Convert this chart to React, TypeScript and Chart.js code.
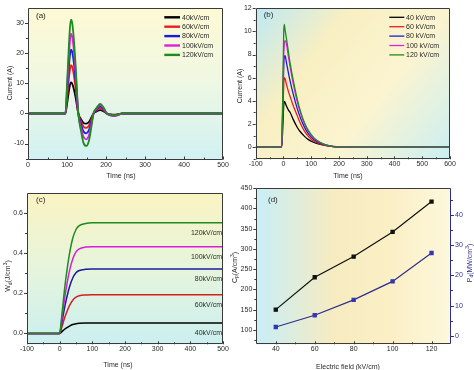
import React, { useEffect, useRef } from "react";
import { Chart, registerables } from "chart.js";

Chart.register(...registerables);

// ---------------- data ----------------
const LEGEND_A = ["40kV/cm", "60kV/cm", "80kV/cm", "100kV/cm", "120kV/cm"];
const LEGEND_B = ["40 kV/cm", "60 kV/cm", "80 kV/cm", "100 kV/cm", "120 kV/cm"];
const LABELS_C = ["40kV/cm", "60kV/cm", "80kV/cm", "100kV/cm", "120kV/cm"];

// (a) current waveforms
const A_TIME = [0, 96, 100, 104, 107, 110, 113, 117, 122, 129, 136, 142, 149, 156, 162, 168, 176, 185, 194, 202, 212, 222, 232, 242, 500];
const A_40 = [0, 0, 3.1, 6.7, 9.1, 10.3, 10.0, 8.4, 5.4, 0, -1.9, -3.1, -3.4, -2.9, -1.5, 0, 0.7, 1.1, 0.7, 0, -0.3, -0.4, -0.2, 0, 0];
const A_60 = [0, 0, 4.8, 10.5, 14.2, 16.1, 15.6, 13.2, 8.4, 0, -2.6, -4.3, -4.8, -4.1, -2.2, 0, 1.0, 1.7, 1.0, 0, -0.4, -0.5, -0.3, 0, 0];
const A_80 = [0, 0, 6.4, 13.8, 18.7, 21.2, 20.6, 17.4, 11.0, 0, -3.6, -5.9, -6.6, -5.6, -3.0, 0, 1.4, 2.3, 1.4, 0, -0.6, -0.8, -0.5, 0, 0];
const A_100 = [0, 0, 8.0, 17.2, 23.3, 26.5, 25.7, 21.7, 13.8, 0, -4.7, -7.7, -8.6, -7.3, -3.9, 0, 1.7, 2.8, 1.7, 0, -0.6, -0.8, -0.5, 0, 0];
const A_120 = [0, 0, 9.4, 20.3, 27.5, 31.2, 30.3, 25.6, 16.2, 0, -5.9, -9.7, -10.8, -9.2, -4.9, 0, 1.9, 3.2, 1.9, 0, -0.5, -0.6, -0.3, 0, 0];
const A_X_TICKS = [0, 100, 200, 300, 400, 500];
const A_Y_TICKS = [-10, 0, 10, 20, 30];

// (b) current waveforms
const B_TIME = [-100, -8, -5, -2, 1, 3, 6, 10, 18, 25, 35, 50, 60, 75, 90, 110, 130, 150, 180, 220, 600];
const B_40 = [0, 0, 0.4, 2.0, 3.6, 3.95, 3.85, 3.6, 3.2, 2.95, 2.4, 1.7, 1.35, 0.95, 0.65, 0.4, 0.26, 0.15, 0.04, 0, 0];
const B_60 = [0, 0, 0.6, 3.0, 5.4, 6.0, 5.9, 5.5, 4.8, 4.3, 3.6, 2.7, 2.1, 1.4, 0.92, 0.52, 0.3, 0.15, 0.04, 0, 0];
const B_80 = [0, 0, 0.8, 4.0, 7.0, 7.8, 7.9, 7.4, 6.4, 5.6, 4.6, 3.3, 2.6, 1.75, 1.15, 0.66, 0.37, 0.19, 0.05, 0, 0];
const B_100 = [0, 0, 0.9, 4.6, 8.0, 8.9, 9.2, 9.0, 7.8, 6.8, 5.5, 3.9, 3.05, 2.05, 1.35, 0.76, 0.42, 0.21, 0.06, 0, 0];
const B_120 = [0, 0, 1.0, 5.5, 10.0, 10.6, 10.1, 9.5, 8.2, 7.1, 5.8, 4.1, 3.2, 2.15, 1.42, 0.8, 0.44, 0.22, 0.06, 0, 0];
const B_X_TICKS = [-100, 0, 100, 200, 300, 400, 500, 600];
const B_Y_TICKS = [0, 2, 4, 6, 8, 10, 12];

// (c) energy density
const C_TIME = [-100, 0, 5, 10, 15, 20, 30, 40, 50, 60, 80, 100, 500];
const C_40 = [0, 0, 0.006, 0.014, 0.021, 0.027, 0.037, 0.045, 0.049, 0.051, 0.052, 0.052, 0.052];
const C_60 = [0, 0, 0.023, 0.05, 0.077, 0.1, 0.139, 0.166, 0.181, 0.188, 0.192, 0.193, 0.193];
const C_80 = [0, 0, 0.039, 0.084, 0.129, 0.167, 0.232, 0.277, 0.303, 0.314, 0.32, 0.322, 0.322];
const C_100 = [0, 0, 0.052, 0.113, 0.173, 0.225, 0.312, 0.372, 0.407, 0.422, 0.431, 0.433, 0.433];
const C_120 = [0, 0, 0.066, 0.144, 0.221, 0.287, 0.397, 0.475, 0.519, 0.538, 0.549, 0.552, 0.552];
const C_X_TICKS = [-100, 0, 100, 200, 300, 400, 500];
const C_Y_TICKS = [0, 0.2, 0.4, 0.6];

// (d) vs electric field
const D_FIELD = [40, 60, 80, 100, 120];
const D_CP = [150, 230, 281, 342, 417];
const D_PD = [2.9, 6.8, 11.9, 18.0, 27.4];
const D_X_TICKS = [40, 60, 80, 100, 120];
const D_YL_TICKS = [100, 150, 200, 250, 300, 350, 400, 450];
const D_YR_TICKS = [0, 10, 20, 30, 40];

// ---------------- styles ----------------
const FONT = '"Liberation Sans", Arial, Helvetica, sans-serif';
const AXIS = "#3a3a3a";
const TEXT = "#2a2a2a";
const NAVY = "#2e2e8c";
const COLORS_AB = ["#000000", "#ea1c24", "#1a1ae0", "#e020e0", "#1f8a1f"];
const COLORS_C = ["#000000", "#d42020", "#1c1c9c", "#dc1adc", "#1f8a1f"];

type Seg = { t: string; s?: "sub" | "sup" };

function drawRich(ctx: CanvasRenderingContext2D, segs: Seg[], x: number, y: number, size: number, color: string, rot = 0) {
  ctx.save();
  ctx.translate(x, y);
  ctx.rotate(rot);
  const small = size * 0.7;
  let w = 0;
  for (const sg of segs) {
    ctx.font = `${sg.s ? small : size}px ${FONT}`;
    w += ctx.measureText(sg.t).width;
  }
  let cx = -w / 2;
  ctx.fillStyle = color;
  ctx.textBaseline = "middle";
  ctx.textAlign = "left";
  for (const sg of segs) {
    const fs = sg.s ? small : size;
    ctx.font = `${fs}px ${FONT}`;
    const dy = sg.s === "sub" ? size * 0.3 : sg.s === "sup" ? -size * 0.35 : 0;
    ctx.fillText(sg.t, cx, dy);
    cx += ctx.measureText(sg.t).width;
  }
  ctx.restore();
}

function drawText(ctx: CanvasRenderingContext2D, t: string, x: number, y: number, size: number, align: CanvasTextAlign = "left", color = TEXT) {
  ctx.save();
  ctx.font = `${size}px ${FONT}`;
  ctx.fillStyle = color;
  ctx.textAlign = align;
  ctx.textBaseline = "middle";
  ctx.fillText(t, x, y);
  ctx.restore();
}

interface DecoCfg {
  grad: (ctx: CanvasRenderingContext2D, a: any) => CanvasGradient;
  rightColor?: string;
  tickColors?: Record<string, string>;
  texts: (ctx: CanvasRenderingContext2D, chart: any) => void;
}

function makeDeco(cfg: DecoCfg) {
  return {
    id: "deco",
    beforeDraw(chart: any) {
      const { ctx, chartArea: a } = chart;
      ctx.save();
      ctx.fillStyle = cfg.grad(ctx, a);
      ctx.fillRect(a.left, a.top, a.right - a.left, a.bottom - a.top);
      ctx.restore();
    },
    afterDraw(chart: any) {
      const { ctx, chartArea: a } = chart;
      ctx.save();
      ctx.lineWidth = 1;
      for (const id of Object.keys(chart.scales)) {
        const s = chart.scales[id];
        const major: number[] = s.ticks.map((t: any) => t.value);
        const minor: number[] = [];
        for (let i = 0; i < major.length - 1; i++) minor.push((major[i] + major[i + 1]) / 2);
        const step = major[1] - major[0];
        if (major[0] - step / 2 > s.min) minor.unshift(major[0] - step / 2);
        if (major[major.length - 1] + step / 2 < s.max) minor.push(major[major.length - 1] + step / 2);
        ctx.strokeStyle = (cfg.tickColors && cfg.tickColors[id]) || AXIS;
        const draw = (v: number, len: number) => {
          const p = Math.round(s.getPixelForValue(v)) + 0.5;
          ctx.beginPath();
          if (s.isHorizontal()) {
            ctx.moveTo(p, a.bottom);
            ctx.lineTo(p, a.bottom - len);
          } else if (s.position === "left") {
            ctx.moveTo(a.left, p);
            ctx.lineTo(a.left - len, p);
          } else {
            ctx.moveTo(a.right, p);
            ctx.lineTo(a.right + len, p);
          }
          ctx.stroke();
        };
        major.forEach((v) => draw(v, 3));
        minor.forEach((v) => draw(v, 2));
      }
      const l = Math.round(a.left) + 0.5;
      const r = Math.round(a.right) - 0.5;
      const t = Math.round(a.top) + 0.5;
      const b = Math.round(a.bottom) - 0.5;
      ctx.strokeStyle = AXIS;
      ctx.beginPath();
      ctx.moveTo(r, t);
      ctx.lineTo(l, t);
      ctx.lineTo(l, b);
      ctx.lineTo(r, b);
      ctx.stroke();
      ctx.strokeStyle = cfg.rightColor || AXIS;
      ctx.beginPath();
      ctx.moveTo(r, t);
      ctx.lineTo(r, b);
      ctx.stroke();
      ctx.restore();
      cfg.texts(ctx, chart);
    },
  };
}

function xScale(min: number, max: number, ticks: number[], height: number, fmt?: (v: number) => string) {
  return {
    type: "linear",
    position: "bottom",
    min,
    max,
    grid: { display: false, drawTicks: false, drawOnChartArea: false },
    border: { display: false },
    ticks: {
      font: { family: FONT, size: 7 },
      color: TEXT,
      padding: 1,
      maxRotation: 0,
      autoSkip: false,
      callback: (v: any) => (fmt ? fmt(Number(v)) : String(v)),
    },
    afterBuildTicks: (s: any) => {
      s.ticks = ticks.map((v) => ({ value: v }));
    },
    afterFit: (s: any) => {
      s.height = height;
    },
  };
}

function yScale(min: number, max: number, ticks: number[], width: number, position: string, color = TEXT, fmt?: (v: number) => string) {
  return {
    type: "linear",
    position,
    min,
    max,
    grid: { display: false, drawTicks: false, drawOnChartArea: false },
    border: { display: false },
    ticks: {
      font: { family: FONT, size: 7 },
      color,
      padding: 4,
      autoSkip: false,
      callback: (v: any) => (fmt ? fmt(Number(v)) : String(v)),
    },
    afterBuildTicks: (s: any) => {
      s.ticks = ticks.map((v) => ({ value: v }));
    },
    afterFit: (s: any) => {
      s.width = width;
    },
  };
}

function common(padding: any, scales: any) {
  return {
    responsive: false,
    maintainAspectRatio: false,
    animation: false,
    events: [],
    layout: { padding, autoPadding: false },
    plugins: { legend: { display: false }, tooltip: { enabled: false }, title: { display: false } },
    scales,
  };
}

function lineSets(xs: number[], series: number[][], colors: string[], width: number) {
  return series.map((ys, i) => ({
    data: xs.map((x, k) => ({ x, y: ys[k] })),
    borderColor: colors[i],
    backgroundColor: colors[i],
    borderWidth: width,
    pointRadius: 0,
    cubicInterpolationMode: "monotone",
    fill: false,
    order: series.length - i,
  }));
}

function legend(ctx: CanvasRenderingContext2D, names: string[], colors: string[], x0: number, x1: number, tx: number, y0: number, dy: number, lw: number) {
  names.forEach((n, i) => {
    const y = y0 + dy * i;
    ctx.save();
    ctx.strokeStyle = colors[i];
    ctx.lineWidth = lw;
    ctx.beginPath();
    ctx.moveTo(x0, y);
    ctx.lineTo(x1, y);
    ctx.stroke();
    ctx.restore();
    drawText(ctx, n, tx, y + 0.3, 7);
  });
}

// ---------------- panels ----------------
function buildA(): any {
  return {
    type: "line",
    data: { datasets: lineSets(A_TIME, [A_40, A_60, A_80, A_100, A_120], COLORS_AB, 1.8) },
    options: common({ left: 0, right: 14, top: 3, bottom: 0 }, {
      x: xScale(0, 500, A_X_TICKS, 25.5),
      y: yScale(-15.3, 35, A_Y_TICKS, 28, "left"),
    }),
    plugins: [
      makeDeco({
        grad: (ctx, a) => {
          const g = ctx.createLinearGradient(0, a.top, 0, a.bottom);
          g.addColorStop(0, "#fdf9d4");
          g.addColorStop(0.45, "#f0f8e2");
          g.addColorStop(1, "#d2f1f3");
          return g;
        },
        texts: (ctx) => {
          drawRich(ctx, [{ t: "Time (ns)" }], 121, 175.7, 7, TEXT);
          drawRich(ctx, [{ t: "Current (A)" }], 10, 83, 7, TEXT, -Math.PI / 2);
          drawText(ctx, "(a)", 36, 16, 8);
          legend(ctx, LEGEND_A, COLORS_AB, 164.3, 180, 182, 17.3, 9.4, 2.4);
        },
      }),
    ],
  };
}

function buildB(): any {
  return {
    type: "line",
    data: { datasets: lineSets(B_TIME, [B_40, B_60, B_80, B_100, B_120], COLORS_AB, 1.3) },
    options: common({ left: 0, right: 24, top: 2.7, bottom: 0 }, {
      x: xScale(-100, 600, B_X_TICKS, 25.7),
      y: yScale(-1.05, 12, B_Y_TICKS, 23.7, "left"),
    }),
    plugins: [
      makeDeco({
        grad: (ctx, a) => {
          const g = ctx.createLinearGradient(a.left, a.top, a.right, a.bottom);
          g.addColorStop(0, "#bde9f5");
          g.addColorStop(0.3, "#f8efc2");
          g.addColorStop(0.62, "#fbf4d0");
          g.addColorStop(1, "#cbeff3");
          return g;
        },
        texts: (ctx) => {
          drawRich(ctx, [{ t: "Time (ns)" }], 116, 176, 7, TEXT);
          drawRich(ctx, [{ t: "Current (A)" }], 8, 86, 7, TEXT, -Math.PI / 2);
          drawText(ctx, "(b)", 31.7, 15, 8);
          legend(ctx, LEGEND_B, COLORS_AB, 157.3, 172.3, 174, 17.3, 9.4, 1.3);
        },
      }),
    ],
  };
}

function buildC(): any {
  const series = [C_40, C_60, C_80, C_100, C_120];
  return {
    type: "line",
    data: { datasets: lineSets(C_TIME, series, COLORS_C, 1.5) },
    options: common({ left: 0, right: 14, top: 2, bottom: 0 }, {
      x: xScale(-100, 500, C_X_TICKS, 25.7),
      y: yScale(-0.054, 0.7, C_Y_TICKS, 27, "left", TEXT, (v) => v.toFixed(1)),
    }),
    plugins: [
      makeDeco({
        grad: (ctx, a) => {
          const g = ctx.createLinearGradient(0, a.top, 0, a.bottom);
          g.addColorStop(0, "#faf3c2");
          g.addColorStop(0.5, "#e6f5dc");
          g.addColorStop(1, "#cbeff0");
          return g;
        },
        texts: (ctx, chart) => {
          const a = chart.chartArea;
          const ys = chart.scales.y;
          drawRich(ctx, [{ t: "Time (ns)" }], 118, 180, 7, TEXT);
          drawRich(ctx, [{ t: "W" }, { t: "d", s: "sub" }, { t: "(J/cm" }, { t: "3", s: "sup" }, { t: ")" }], 8.3, 91, 7, TEXT, -Math.PI / 2);
          drawText(ctx, "(c)", 36, 15, 8);
          series.forEach((s, i) => {
            drawText(ctx, LABELS_C[i], a.right - 1, ys.getPixelForValue(s[s.length - 1]) + 10, 7, "right");
          });
        },
      }),
    ],
  };
}

function buildD(): any {
  return {
    type: "line",
    data: {
      datasets: [
        {
          data: D_FIELD.map((x, i) => ({ x, y: D_CP[i] })),
          yAxisID: "y",
          borderColor: "#111111",
          backgroundColor: "#111111",
          borderWidth: 1.2,
          pointStyle: "rect",
          pointRadius: 2.2,
          tension: 0,
        },
        {
          data: D_FIELD.map((x, i) => ({ x, y: D_PD[i] })),
          yAxisID: "y1",
          borderColor: NAVY,
          backgroundColor: "#3434b4",
          pointBackgroundColor: "#3434b4",
          pointBorderColor: "#3434b4",
          borderWidth: 1.2,
          pointStyle: "rect",
          pointRadius: 2.2,
          tension: 0,
        },
      ],
    },
    options: common({ left: 0, right: 0, top: 6.7, bottom: 0 }, {
      x: xScale(30, 130, D_X_TICKS, 25.7),
      y: yScale(64.3, 450, D_YL_TICKS, 26.3, "left"),
      y1: yScale(-2.82, 48.85, D_YR_TICKS, 23, "right", NAVY),
    }),
    plugins: [
      makeDeco({
        rightColor: NAVY,
        tickColors: { y1: NAVY },
        grad: (ctx, a) => {
          const g = ctx.createLinearGradient(a.left, a.top, a.right, a.top);
          g.addColorStop(0, "#c8eef8");
          g.addColorStop(0.4, "#f7ebc0");
          g.addColorStop(0.7, "#fbefc6");
          g.addColorStop(1, "#fdf8dc");
          return g;
        },
        texts: (ctx) => {
          drawRich(ctx, [{ t: "Electric field (kV/cm)" }], 118, 187.3, 7, TEXT);
          drawRich(ctx, [{ t: "C" }, { t: "p", s: "sub" }, { t: "(A/cm" }, { t: "3", s: "sup" }, { t: ")" }], 5, 87.5, 7, TEXT, -Math.PI / 2);
          drawRich(ctx, [{ t: "P" }, { t: "d", s: "sub" }, { t: "(MW/cm" }, { t: "3", s: "sup" }, { t: ")" }], 240, 83, 7, NAVY, -Math.PI / 2);
          drawText(ctx, "(d)", 38, 20, 8);
        },
      }),
    ],
  };
}

function Panel(props: { left: number; top: number; width: number; height: number; build: () => any }) {
  const ref = useRef<HTMLCanvasElement>(null);
  useEffect(() => {
    const chart = new Chart(ref.current as HTMLCanvasElement, props.build());
    return () => chart.destroy();
  }, []);
  return (
    <div style={{ position: "absolute", left: props.left, top: props.top, width: props.width, height: props.height }}>
      <canvas ref={ref} width={props.width} height={props.height} style={{ display: "block", width: props.width, height: props.height }} />
    </div>
  );
}

export default function App() {
  return (
    <div style={{ position: "absolute", left: 0, top: 0, width: 474, height: 370, background: "#ffffff", overflow: "hidden" }}>
      <Panel left={0} top={0} width={237} height={185} build={buildA} />
      <Panel left={232} top={0} width={242} height={185} build={buildB} />
      <Panel left={0} top={185} width={237} height={185} build={buildC} />
      <Panel left={230} top={180} width={244} height={190} build={buildD} />
    </div>
  );
}
